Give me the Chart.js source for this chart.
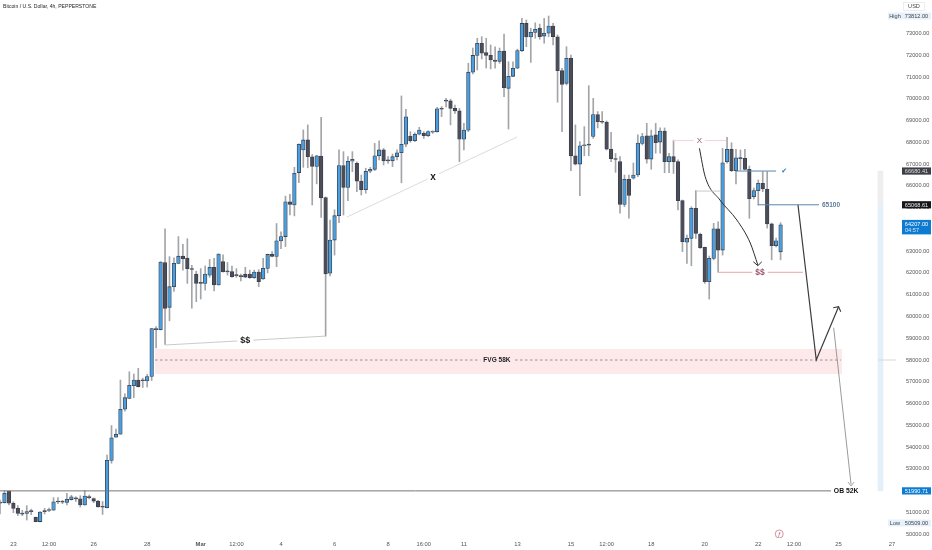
<!DOCTYPE html>
<html><head><meta charset="utf-8">
<style>html,body{margin:0;padding:0;background:#fff}canvas{display:block}</style>
<script src="https://cdn.jsdelivr.net/npm/chart.js@4"></script></head>
<body><canvas id="c" width="932" height="550"></canvas>
<script>
const opens=[51430,51450,51980,51420,51190,50970,50950,51070,50780,50580,51070,51090,51100,51500,51490,51460,51590,51640,51630,51340,51700,51640,51520,51260,51220,53390,54460,54590,55740,56240,56820,57080,57070,57040,57250,59430,59390,62480,60420,61370,62440,62770,62680,62180,61950,61540,61520,61900,62260,61450,62520,62070,62060,61900,61850,61950,61950,61780,62040,61720,62210,62850,62760,63470,63670,65270,65120,66610,67650,68110,67330,66890,67370,65460,61990,63510,64630,66930,65930,67130,67040,66220,65820,66680,66760,67380,67650,67170,67150,67340,67520,67910,68290,68070,68370,68410,68300,68470,68490,69540,69910,69900,69560,69440,68140,68560,71220,71990,72550,72120,71990,71780,71720,72190,70480,71030,71400,72210,73460,72840,73050,73250,72880,73010,73340,72850,71290,70710,71860,67380,67000,67840,67890,68270,69270,68940,68930,67690,67230,67110,65150,66300,66350,66500,67950,68300,67230,68340,68010,68520,67110,67340,67110,65320,63410,63590,64970,63770,63180,61600,62670,64030,63050,67110,67680,66700,67270,67260,66760,65500,65780,66120,65840,64250,63250,62970];
const closes=[51480,51880,51420,51190,50950,50920,51040,51040,50580,51020,51040,51110,51490,51480,51470,51600,51720,51620,51340,51750,51680,51520,51250,51240,53390,54430,54590,55740,56270,56840,57080,56780,57050,57240,59450,59400,62500,60370,61370,62440,62770,62650,62200,62160,61520,61520,61950,62260,61450,62870,62060,62050,61830,61880,61830,61810,61780,62040,61600,62210,62850,62760,63480,63670,65270,65150,66580,67910,68110,67340,66890,67380,65450,61950,63510,64630,66930,65930,67130,67220,66220,65820,66670,66760,67380,67650,67150,67150,67340,67520,67910,69170,68070,68370,68560,68300,68490,68490,69540,69520,69890,69560,69440,68140,68560,71220,71990,72550,72090,71990,71780,71720,72190,70510,71030,71400,72210,73460,72840,73050,73190,72850,73010,73340,72850,71290,70660,71860,67380,67000,67840,67860,67870,69270,68950,68920,67690,67250,67210,65150,66300,65560,66500,67970,68260,67230,68300,67980,68520,67110,67340,67110,65320,63440,63590,64970,63820,63160,61600,62670,64030,63050,67060,67680,66700,67290,67250,66760,65410,65780,66120,65860,64250,63250,63480,64207];
const highs=[51570,52000,51980,51490,51310,51100,51310,51150,50790,51040,51190,51200,51680,51680,51560,51880,51790,51720,51770,52000,51800,51670,51560,51500,53640,54990,54830,57080,56450,57460,57360,57620,57170,57340,59460,59540,62520,64030,62750,62690,63670,63310,63570,62350,62080,62200,62320,62620,62670,62880,62830,62480,62320,62200,61950,62260,62130,62130,62150,62670,62860,62980,64270,63890,65530,65610,66850,67930,68570,68800,67440,67400,69150,65490,64430,64900,67650,67570,67340,67570,67100,66500,66810,66850,67950,68070,67720,67340,67460,67650,70130,69520,68490,68440,68690,68490,68530,68530,69610,69640,70020,69980,69710,69560,68870,71630,72330,72780,72850,72780,72470,72380,72330,72970,71700,71700,72280,73690,73620,73240,73490,73430,73690,73800,73470,72930,71400,72390,72010,68800,68030,68720,70600,70020,69410,69410,68980,68460,67490,67340,66500,66500,67050,68340,68410,68870,68560,68870,68660,68660,67490,68100,67190,65350,63740,65040,65780,63830,63190,62780,64280,64350,67720,68230,67980,67680,67650,67680,66910,65900,66270,66650,66650,64290,63600,64310];
const lows=[50930,51430,51340,50990,50850,50850,50650,50900,50570,50570,50930,51040,51090,51400,51400,51340,51570,51500,51250,51330,51620,51450,51240,50910,51210,53260,54440,54580,55650,56220,56270,56760,56740,56760,57060,58560,59380,58720,59800,61150,62420,62130,61520,60380,60680,60800,61210,61800,61170,61440,62040,61900,61800,61800,61630,61780,61750,61750,61370,61700,62000,62740,62290,63110,63210,64670,64620,66150,66850,66830,65120,66090,64550,59100,61860,62820,64310,64660,65320,66650,65730,65580,65660,66600,66700,67190,66960,67030,66880,67190,66140,67800,68000,68030,68340,68180,68260,68410,68470,69180,69630,68800,69330,67110,67650,68490,71140,71320,71830,71410,71370,71410,71630,70100,68610,71010,71380,72160,72390,71670,72780,72730,72550,72850,72470,69840,68490,70630,66700,66960,65550,67380,67380,68180,68660,68870,67650,67110,66620,64740,65040,64510,66310,66420,67880,67040,66760,67500,67500,66600,66600,66570,64890,62980,62440,62330,63590,63120,61520,60800,62600,62030,62820,67040,66650,66090,66730,66730,64510,65400,65120,65730,64060,62600,63190,62600];

const tickIndexes=[3,11,21,33,45,53,63,75,87,95,104,116,128,136,146,158,170,178,188,200];
const tickLabels=['23','12:00','26','28','Mar','12:00','4','6','8','16:00','11','13','15','12:00','18','20','22','12:00','25','27'];
const priceTicks=[50000,51000,52000,53000,54000,55000,56000,57000,58000,59000,60000,61000,62000,63000,64000,65000,66000,67000,68000,69000,70000,71000,72000,73000];

const fvgZone=[[34.75,58507],[188.8,58507]], fvgZoneLow=57358;
const fvgMid=[[34.75,58000],[188.5,58000]];
const liquidityA=[[37,58690],[73.1,59100]];
const trendX=[[77.8,64570],[115.9,68240]];
const pinkX=[[150.9,68080],[162.8,68080]];
const greyShort=[[156,65760],[161.7,65760]];
const pinkSS=[[161,62030],[180,62030]];
const blueCheck=[[165,66680],[174,66680]];
const level65100=[[169.9,65130],[184.3,65130]];
const ob52=[[0,51990],[186.3,51990]];
const curve=[[156.8,67725],[158.1,66420],[161.4,65350],[165.2,64430],[168.2,63375],[169.9,62365]];
const curveHead=[[168.9,62516],[169.9,62332],[170.8,62516]];
const forecast=[[178.9,65134],[183,58000],[188,60450]];
const forecastHead=[[186.8,60404],[188,60450],[188.5,60220]];
const greyArrow=[[186.9,59485],[190.8,52292]];
const greyHead=[[190.1,52398],[190.8,52214],[191.5,52398]];
const axisMark=[[196.9,58000],[200.9,58000]];
const stripX=197.4, stripGrey=[65130,66680], stripBlue=[51990,65130];
const eventPoint=[[174.7,50010]];

const chartLabels=[
 {t:'$$',x:55,y:58874,c:'#222',f:'bold 9px "Liberation Sans"',bg:1},
 {t:'x',x:97.1,y:66410,c:'#222',f:'bold 10px "Liberation Sans"',bg:1},
 {t:'X',x:156.8,y:68080,c:'#9c5570',f:'8px "Liberation Sans"',bg:1},
 {t:'$$',x:170.4,y:62030,c:'#9c5570',f:'bold 8.5px "Liberation Sans"',bg:1},
 {t:'✔',x:175.8,y:66680,c:'#2f7fc1',f:'7px "DejaVu Sans"',bg:0},
 {t:'65100',x:186.3,y:65130,c:'#5d7b9b',f:'bold 6.5px "Liberation Sans"',bg:1},
 {t:'FVG 58K',x:111.4,y:58000,c:'#222',f:'bold 6.5px "Liberation Sans"',bg:0,pinkBg:1},
 {t:'OB 52K',x:189.7,y:51990,c:'#111',f:'bold 6.8px "Liberation Sans"',bg:0},
 {t:'ƒ',x:174.7,y:50010,c:'#b0566e',f:'italic 6px "Liberation Sans"',bg:0}
];
const priceTags=[
 {t:'66680.41',y:66680,bg:'#3c3f48',c:'#ddd'},
 {t:'65068.61',y:65130,bg:'#15161a',c:'#eee'},
 {t:'51990.71',y:51990,bg:'#0c7bd1',c:'#fff'}
];

const line=(pts,color,w,extra)=>Object.assign({type:'line',data:pts.map(p=>({x:p[0],y:p[1]})),borderColor:color,borderWidth:w,pointRadius:0,fill:false,order:10,tension:0},extra||{});

const overlay={id:'overlay',afterDraw(ch){
 const g=ch.ctx,xs=ch.scales.x,ys=ch.scales.y;
 g.save();g.textBaseline='middle';g.textAlign='center';
 chartLabels.forEach(l=>{
  g.font=l.f;const px=xs.getPixelForValue(l.x),py=ys.getPixelForValue(l.y),w=g.measureText(l.t).width;
  if(l.bg){g.fillStyle='#fff';g.fillRect(px-w/2-3,py-5,w+6,10);}
  if(l.pinkBg){g.fillStyle='#fde8ea';g.fillRect(px-w/2-3,py-4,w+6,8);}
  g.fillStyle=l.c;g.fillText(l.t,px,py);
 });
 g.textAlign='left';g.font='5.1px "Liberation Sans"';g.fillStyle='#23252b';
 g.fillText('Bitcoin / U.S. Dollar, 4h, PEPPERSTONE',3,6.3);
 const tagFont='5.6px "Liberation Sans"';g.font=tagFont;g.textAlign='center';
 const R=(x,y,w,h,c)=>{g.fillStyle=c;g.fillRect(x,y,w,h);};
 priceTags.forEach(t=>{const py=ys.getPixelForValue(t.y);R(902,py-3.6,29,7.2,t.bg);g.fillStyle=t.c;g.fillText(t.t,916.5,py+.2);});
 const pc=ys.getPixelForValue(closes[closes.length-1]);
 R(902,pc-5,29,14.5,'#0c7bd1');g.fillStyle='#fff';g.fillText(closes[closes.length-1].toFixed(2),916.5,pc-.3);
 g.fillStyle='#d6e8f7';g.fillText('04:57',912,pc+6);
 R(888,12.5,43,7,'#e6f1fb');g.fillStyle='#444';g.fillText('High',895,16.2);g.fillText('73812.00',916.5,16.2);
 R(888,519.5,43,7,'#e6f1fb');g.fillStyle='#444';g.fillText('Low',895,523.2);g.fillText('50509.00',916.5,523.2);
 g.strokeStyle='#e4e6ea';g.lineWidth=.7;g.strokeRect(903.5,2.5,21,8);
 g.fillStyle='#444';g.fillText('USD',914,6.6);
 g.restore();
}};
const noPad=s=>{s.paddingTop=0;s.paddingBottom=0;s.paddingLeft=0;s.paddingRight=0;};

new Chart(document.getElementById('c'),{
 type:'bar',
 plugins:[overlay],
 data:{datasets:[
  line(fvgZone,'rgba(0,0,0,0)',0,{fill:{value:fvgZoneLow},backgroundColor:'#fde8ea',order:100}),
  line(fvgMid,'#6e6e6e',.7,{borderDash:[2.5,2.5],order:90}),
  {type:'bar',data:[{x:stripX,y:stripGrey}],backgroundColor:'#eeeeee',barThickness:5,grouped:false,order:95},
  {type:'bar',data:[{x:stripX,y:stripBlue}],backgroundColor:'#e3f0fa',barThickness:5,grouped:false,order:94},
  line(axisMark,'#d8d8d8',1,{order:93}),
  {type:'bar',data:opens.map((o,i)=>({x:i,y:[lows[i],highs[i]]})),backgroundColor:'#a3a5a9',barThickness:1,grouped:false,order:60},
  {type:'bar',data:opens.map((o,i)=>({x:i,y:[Math.min(o,closes[i]),Math.max(o,closes[i])]})),
   backgroundColor:opens.map((o,i)=>closes[i]>=o?'#4a9fe0':'#4b4e58'),borderColor:'#3a3f4c',borderWidth:.8,borderSkipped:false,barThickness:3.6,grouped:false,minBarLength:1,order:50},
  line(liquidityA,'#bdbdbd',.8),
  line(trendX,'#d2d2d2',.8),
  line(pinkX,'#f8d0d5',1),
  line(greyShort,'#c4c4c4',.9),
  line(pinkSS,'#e7a5ad',1),
  line(blueCheck,'#5f85a8',1),
  line(level65100,'#5f85a8',1),
  line(ob52,'#757575',1),
  line(curve,'#2c2c30',1,{cubicInterpolationMode:'monotone'}),
  line(curveHead,'#2c2c30',1),
  line(forecast,'#3a3a40',1.2),
  line(forecastHead,'#3a3a40',1.1),
  line(greyArrow,'#8e8e8e',.9),
  line(greyHead,'#8e8e8e',.8),
  line(eventPoint,'#c77a8c',1,{pointRadius:4,pointBackgroundColor:'#fff',pointBorderColor:'#c77a8c',pointBorderWidth:.8,showLine:false})
 ]},
 options:{
  responsive:false,animation:false,devicePixelRatio:1,
  layout:{padding:0,autoPadding:false},
  plugins:{legend:{display:false},title:{display:false},tooltip:{enabled:false}},
  scales:{
   x:{type:'linear',offset:false,position:'bottom',min:0,max:201.1,grid:{display:false,drawTicks:false},border:{display:false},
    afterFit(s){s.height=12;noPad(s);},
    afterBuildTicks(s){s.ticks=tickIndexes.map(v=>({value:v}));},
    ticks:{autoSkip:false,maxRotation:0,minRotation:0,padding:3,color:'#555',
     font:c=>({size:5.8,family:'"Liberation Sans"',weight:tickLabels[c.index]==='Mar'?'bold':'normal'}),
     callback:(v)=>tickLabels[tickIndexes.indexOf(v)]}},
   y:{position:'right',min:49826,max:74536,grid:{display:false,drawTicks:false},border:{display:false},
    afterFit(s){s.width=35;noPad(s);},
    afterBuildTicks(s){s.ticks=priceTicks.map(v=>({value:v}));},
    ticks:{autoSkip:false,padding:9,color:'#555',font:{size:5.6,family:'"Liberation Sans"'},
     callback:v=>Number(v).toFixed(2)}}
  }
 }
});
</script></body></html>
